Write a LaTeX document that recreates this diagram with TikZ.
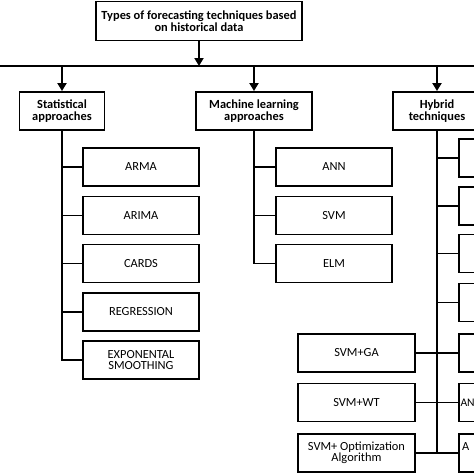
\documentclass[tikz,border=0pt]{standalone}
\usepackage{fontspec}
\setmainfont{Carlito}
\usetikzlibrary{arrows.meta}
\begin{document}
\begin{tikzpicture}[x=1pt, y=-1pt,
        box/.style={draw=black, line width=1.9pt, fill=white, align=center, inner sep=0pt,
                    minimum height=38pt, font=\fontsize{12.4}{11.5}\selectfont},
        head/.style={box, font=\bfseries\fontsize{12.4}{11.5}\selectfont},
        leaf/.style={box, minimum width=116pt},
        link/.style={draw=black, line width=1.9pt},
        arr/.style={link, -{Triangle[width=9pt,length=8pt]}}]
        \useasboundingbox (0,0) rectangle (474,474);
        \clip (0,0) rectangle (474,474);
        % root and bus
        \node[head, minimum width=206pt, minimum height=39pt] (root) at (199,21) {Types of forecasting techniques based\\on historical data};
        \coordinate (busL) at (-10,66);
        \coordinate (busR) at (484,66);
        \coordinate (busT) at (199,66);
        \draw[link] (busL) -- (busR);
        \draw[arr] (root.south) -- (busT);
        % families
        \node[head, minimum width=85pt] (stat) at (62,111) {Statistical\\approaches};
        \node[head, minimum width=116pt] (ml) at (254,111) {Machine learning\\approaches};
        \node[head, minimum width=88pt] (hyb) at (437,111) {Hybrid\\techniques};
        \foreach \n in {stat, ml, hyb}
            \draw[arr] (\n.north |- busT) -- (\n.north);
        % statistical
        \node[leaf] (arma) at (141,167) {ARMA};
        \node[leaf] (arima) at (141,215.5) {ARIMA};
        \node[leaf] (cards) at (141,263.5) {CARDS};
        \node[leaf] (regr) at (141,312) {REGRESSION};
        \node[leaf] (expo) at (141,360) {EXPONENTAL\\SMOOTHING};
        \draw[link] (stat.south) |- (expo.west);
        \foreach \n in {arma, arima, cards, regr}
            \draw[link] (stat.south |- \n.west) -- (\n.west);
        % machine learning
        \node[leaf] (ann) at (334,167) {ANN};
        \node[leaf] (svm) at (334,215.5) {SVM};
        \node[leaf] (elm) at (334,263.5) {ELM};
        \draw[link] (ml.south) |- (elm.west);
        \foreach \n in {ann, svm}
            \draw[link] (ml.south |- \n.west) -- (\n.west);
        % hybrid, right column
        \foreach \n/\y in {h1/158, h2/206, h3/253.5, h4/302.5, h5/353, h6/402.5, h7/453}
            \node[leaf] (\n) at (517,\y) {};
        \node[anchor=west, inner sep=0pt, font=\fontsize{11.6}{11.5}\selectfont] (h6txt) at (460.3,403) {AN};
        \node[anchor=west, inner sep=0pt, font=\fontsize{12.4}{11.5}\selectfont] (h7txt) at (462,447) {A};
        \draw[link] (hyb.south) |- (h7.west);
        \foreach \n in {h1, h2, h3, h4, h5, h6}
            \draw[link] (hyb.south |- \n.west) -- (\n.west);
        % hybrid, left column
        \node[leaf, minimum width=117pt] (sga) at (356.5,353) {SVM+GA};
        \node[leaf, minimum width=117pt] (swt) at (356.5,402.5) {SVM+WT};
        \node[leaf, minimum width=117pt] (sopt) at (356.5,453) {SVM+ Optimization\\Algorithm};
        \foreach \n in {sga, swt, sopt}
            \draw[link] (\n.east) -- (hyb.south |- \n.east);
\end{tikzpicture}
\end{document}
